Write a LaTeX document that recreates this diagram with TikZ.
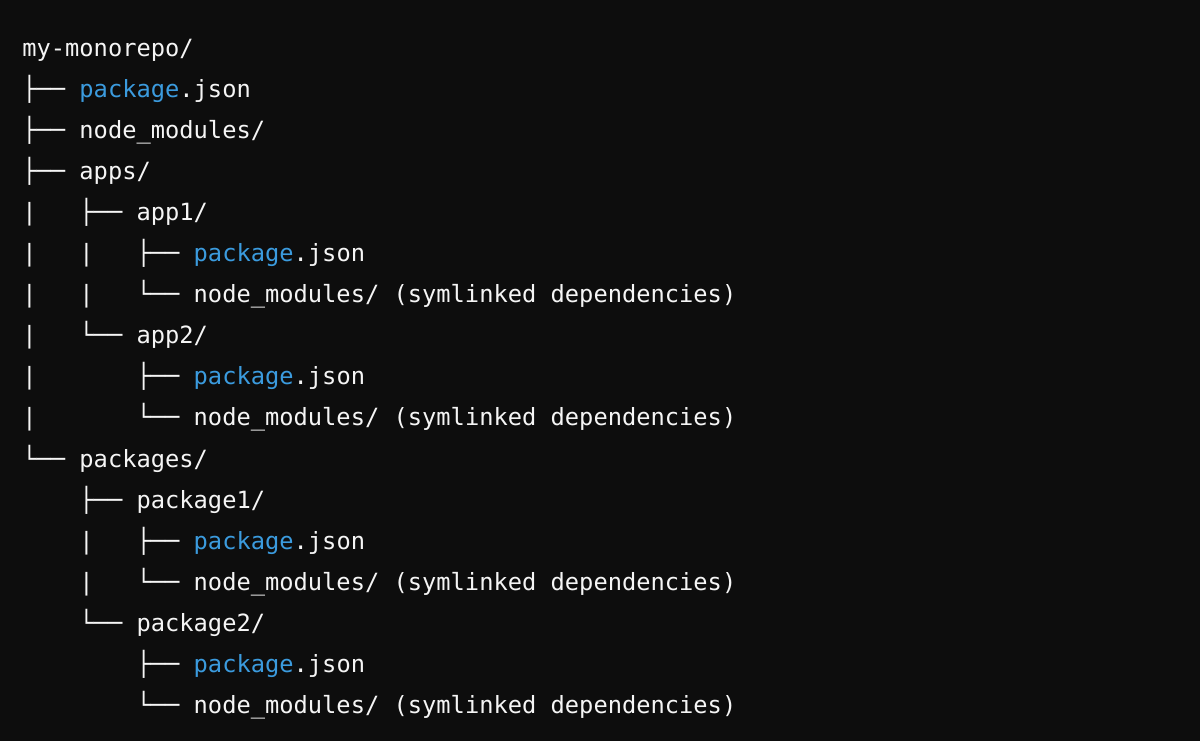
\documentclass[tikz,border=0pt]{standalone}
\usepackage{fontspec}
\setmonofont{DejaVu Sans Mono}
\definecolor{bgdark}{RGB}{13,13,13}
\definecolor{txtwhite}{RGB}{245,245,245}
\definecolor{pkgblue}{RGB}{59,155,222}
\newcommand{\pkgname}{\textcolor{pkgblue}{package}}
\begin{document}
\begin{tikzpicture}[x=0.02cm, y=-0.02cm,
  every node/.style={anchor=base west, inner sep=0pt, text=txtwhite,
    font=\ttfamily\fontsize{13.5pt}{16pt}\selectfont}]
\fill[bgdark] (0,0) rectangle (1200,741);

\node (root) at (22,56) {my-monorepo/};
\node (rootpkg) at (22,97.1) {├──\ \pkgname.json};
\node (rootnm) at (22,138.2) {├──\ node\_modules/};
\node (apps) at (22,179.3) {├──\ apps/};
\node (app1) at (22,220.4) {|\ \ \ ├──\ app1/};
\node (app1pkg) at (22,261.5) {|\ \ \ |\ \ \ ├──\ \pkgname.json};
\node (app1nm) at (22,302.6) {|\ \ \ |\ \ \ └──\ node\_modules/ (symlinked dependencies)};
\node (app2) at (22,343.7) {|\ \ \ └──\ app2/};
\node (app2pkg) at (22,384.8) {|\ \ \ \ \ \ \ ├──\ \pkgname.json};
\node (app2nm) at (22,425.9) {|\ \ \ \ \ \ \ └──\ node\_modules/ (symlinked dependencies)};
\node (packages) at (22,467) {└──\ packages/};
\node (pk1) at (22,508.1) {\ \ \ \ ├──\ package1/};
\node (pk1pkg) at (22,549.2) {\ \ \ \ |\ \ \ ├──\ \pkgname.json};
\node (pk1nm) at (22,590.3) {\ \ \ \ |\ \ \ └──\ node\_modules/ (symlinked dependencies)};
\node (pk2) at (22,631.4) {\ \ \ \ └──\ package2/};
\node (pk2pkg) at (22,672.5) {\ \ \ \ \ \ \ \ ├──\ \pkgname.json};
\node (pk2nm) at (22,713.6) {\ \ \ \ \ \ \ \ └──\ node\_modules/ (symlinked dependencies)};

\end{tikzpicture}
\end{document}
